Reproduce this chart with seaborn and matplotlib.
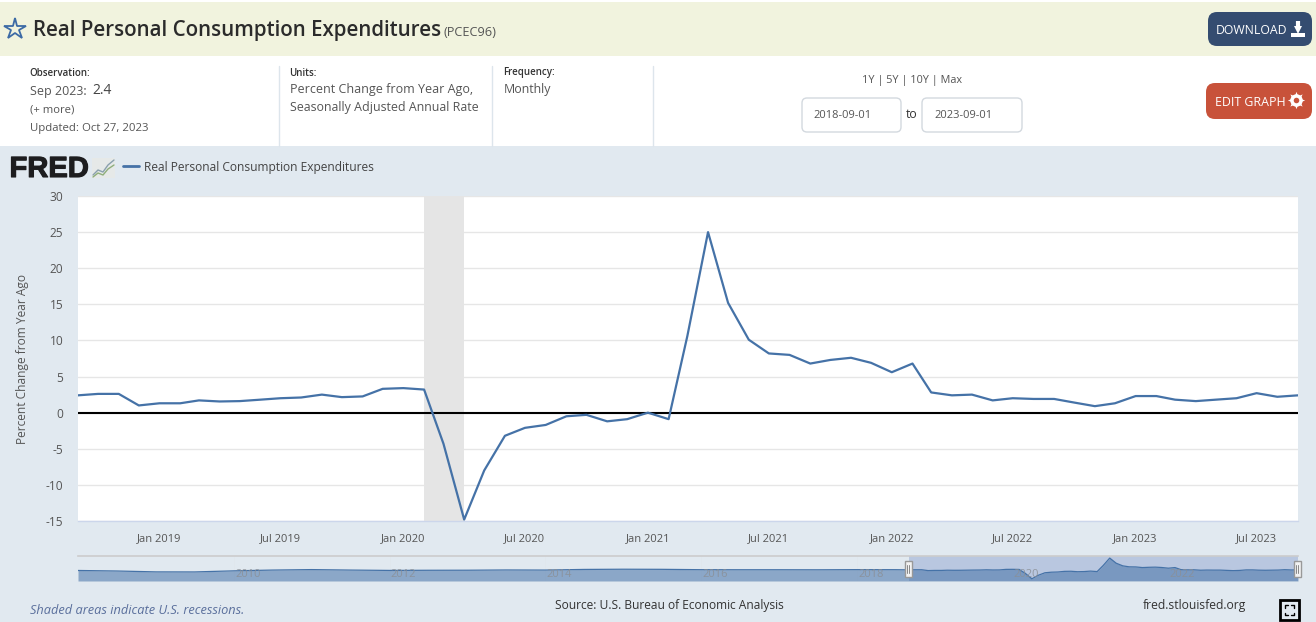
import numpy as np
import pandas as pd
import matplotlib
matplotlib.use("Agg")
import matplotlib.pyplot as plt
import matplotlib.patheffects as pe
from matplotlib.patches import FancyBboxPatch, Rectangle
import seaborn as sns

# -----------------------------
# Data
# -----------------------------
series_name = "Real Personal Consumption Expenditures"
start_month = "2018-09-01"
values = [
    2.4, 2.6, 2.6, 1.0,
    1.3, 1.3, 1.7, 1.55, 1.6, 1.8, 2.0, 2.1, 2.5, 2.15, 2.25, 3.3,
    3.4, 3.2, -4.3, -14.8, -8.0, -3.2, -2.1, -1.7, -0.5, -0.3, -1.2, -0.9,
    0.0, -0.9, 10.6, 25.0, 15.2, 10.1, 8.2, 8.0, 6.8, 7.3, 7.6, 6.9,
    5.6, 6.8, 2.8, 2.4, 2.5, 1.7, 2.0, 1.9, 1.9, 1.4, 0.9, 1.3,
    2.3, 2.3, 1.8, 1.6, 1.8, 2.0, 2.7, 2.2, 2.4,
]
y_ticks = [-15, -10, -5, 0, 5, 10, 15, 20, 25, 30]
x_tick_dates = ["2019-01-01", "2019-07-01", "2020-01-01", "2020-07-01", "2021-01-01",
                "2021-07-01", "2022-01-01", "2022-07-01", "2023-01-01", "2023-07-01"]
x_tick_labels = ["Jan 2019", "Jul 2019", "Jan 2020", "Jul 2020", "Jan 2021",
                 "Jul 2021", "Jan 2022", "Jul 2022", "Jan 2023", "Jul 2023"]
recession = ["2020-02-01", "2020-04-01"]

# navigator history before the selected range (half-yearly reading)
nav_dates = ["2008-01-01", "2008-07-01", "2009-01-01", "2009-07-01", "2010-01-01", "2010-07-01",
             "2011-01-01", "2011-07-01", "2012-01-01", "2012-07-01", "2013-01-01", "2013-07-01",
             "2014-01-01", "2014-07-01", "2015-01-01", "2015-07-01", "2016-01-01", "2016-07-01",
             "2017-01-01", "2017-07-01", "2018-01-01", "2018-07-01"]
nav_values = [1.2, 0.2, -1.5, -1.6, 0.5, 2.0, 2.9, 2.0, 1.3, 1.6, 1.7, 2.2,
              2.0, 3.2, 3.6, 3.4, 2.7, 2.6, 2.6, 2.5, 2.8, 2.7]
nav_year_labels = ["2010", "2012", "2014", "2016", "2018", "2020", "2022"]

df = pd.DataFrame({"date": pd.date_range(start_month, periods=len(values), freq="MS"),
                   "value": values})
nav = pd.concat([pd.DataFrame({"date": pd.to_datetime(nav_dates), "value": nav_values}), df])

# -----------------------------
# Style
# -----------------------------
sns.set_theme(style="white")
plt.rcParams["font.family"] = ["Open Sans", "DejaVu Sans"]
plt.rcParams["axes.unicode_minus"] = False

BG = "#e1e9f0"
LINE = "#4572a7"
TXT = "#555555"
W, H = 1316, 622

fig = plt.figure(figsize=(W / 100, H / 100), dpi=100, facecolor=BG)


def px_axes(x0, y0, x1, y1, **kw):
    return fig.add_axes([x0 / W, (H - y1) / H, (x1 - x0) / W, (y1 - y0) / H], **kw)


# -----------------------------
# Page furniture (pixel coordinates)
# -----------------------------
page = px_axes(0, 0, W, H, zorder=0)
page.set_xlim(0, W)
page.set_ylim(H, 0)
page.axis("off")
page.add_patch(Rectangle((0, 0), W, 146, fc="white", ec="none"))
page.add_patch(Rectangle((0, 2), W, 54, fc="#f1f3de", ec="none"))
for x in [279, 492, 653]:
    page.plot([x, x], [66, 146], color="#dde5ec", lw=1)

page.plot(15, 29, marker="*", ms=16, mfc="none", mec="#3c6aa5", mew=1.3)
page.text(33, 30.5, series_name, fontsize=14.8, fontweight="semibold", color="#2b2b2b",
          va="center", ha="left")
page.text(444, 32, "(PCEC96)", fontsize=9.2, color="#555555", va="center")

for x, label in [(29.5, "Observation:"), (289.5, "Units:"), (503.5, "Frequency:")]:
    page.text(x, 73, label, fontsize=7, fontweight="semibold", color="#333333", va="center")
page.text(30, 91, "Sep 2023:", fontsize=9, color=TXT, va="center")
page.text(92, 91, "2.4", fontsize=10, fontweight="medium", color="#444444", va="center")
page.text(30, 110, "(+ more)", fontsize=8.1, color=TXT, va="center")
page.text(30, 128, "Updated: Oct 27, 2023", fontsize=8.2, color=TXT, va="center")
page.text(290, 89.5, "Percent Change from Year Ago,", fontsize=9, color=TXT, va="center")
page.text(290, 107.5, "Seasonally Adjusted Annual Rate", fontsize=8.95, color=TXT, va="center")
page.text(504, 89.5, "Monthly", fontsize=8.9, color=TXT, va="center")

page.text(912, 80, "1Y | 5Y | 10Y | Max", fontsize=7.8, color=TXT, ha="center", va="center")
for x0, x1, label in [(802, 901, "2018-09-01"), (922, 1022, "2023-09-01")]:
    page.add_patch(FancyBboxPatch((x0 + 5, 103), x1 - x0 - 10, 24, boxstyle="round,pad=5",
                                  fc="white", ec="#d3d9df", lw=1))
    page.text((x0 + x1) / 2 - 8.5, 115, label, fontsize=8, color=TXT, ha="center", va="center")
page.text(912, 115, "to", fontsize=8.8, color="#333333", ha="center", va="center")

# buttons
page.add_patch(FancyBboxPatch((1217, 21), 86, 16, boxstyle="round,pad=9", fc="#344c70", ec="none"))
page.text(1216, 30, "DOWNLOAD", fontsize=8.8, color="white", va="center")
page.plot([1298, 1298], [21, 29], color="white", lw=3, solid_capstyle="butt")
page.plot(1298, 30, marker="v", ms=6, color="white", mew=0)
page.add_patch(Rectangle((1291, 33), 14, 4, fc="white", ec="none"))
page.add_patch(FancyBboxPatch((1215, 92), 88, 18, boxstyle="round,pad=9", fc="#c8523a", ec="none"))
page.text(1215, 102, "EDIT GRAPH", fontsize=8.9, color="white", va="center")
page.plot(1296, 100, marker=(8, 1, 0), ms=12.5, color="white", mew=0)
page.plot(1296, 100, marker="o", ms=9, color="white", mew=0)
page.plot(1296, 100, marker="o", ms=4, color="#c8523a", mew=0)

# FRED logo and legend
page.text(9.5, 169, "FRED", fontsize=21, fontweight="bold", family="Liberation Sans",
          color="#1d1d1f", va="center",
          path_effects=[pe.withStroke(linewidth=0.8, foreground="#1d1d1f")])
page.add_patch(Rectangle((92, 158), 23, 20, fc="#e6e9e8", ec="none"))
page.plot([93, 98, 103, 108, 114], [175, 170, 172, 165, 160], color="#8aa0ad", lw=1)
page.plot([93, 98, 103, 108, 114], [177, 173, 175, 169, 165], color="#8fae7b", lw=1)
page.plot([123, 139], [166, 166], color=LINE, lw=2)
page.text(144, 167.5, series_name, fontsize=8.65, color="#444444", va="center")

# footer
page.text(30, 610, "Shaded areas indicate U.S. recessions.", fontsize=9.2, style="italic",
          color="#5a6f9c", va="center")
page.text(555, 606, "Source: U.S. Bureau of Economic Analysis", fontsize=8.63, color="#333333", va="center")
page.text(1143, 606, "fred.stlouisfed.org", fontsize=8.75, color="#333333", va="center")
page.add_patch(Rectangle((1280, 600), 18.5, 20, fc="none", ec="black", lw=2))
for cx, cy, dx, dy in [(1285, 605, 1, 1), (1293.5, 605, -1, 1), (1285, 615, 1, -1), (1293.5, 615, -1, -1)]:
    page.plot([cx + 2.5 * dx, cx, cx], [cy, cy, cy + 2.5 * dy], color="black", lw=1)

# -----------------------------
# Main chart
# -----------------------------
ax = px_axes(78, 196, 1298, 521, zorder=2, facecolor="white")
ax.axvspan(pd.Timestamp(recession[0]), pd.Timestamp(recession[1]), color="#e5e5e5", lw=0, zorder=1)
ax.axhline(0, color="black", lw=1.5, zorder=3)
sns.lineplot(data=df, x="date", y="value", color=LINE, lw=1.6, ax=ax, zorder=4)
ax.set_xlim(df["date"].iloc[0], df["date"].iloc[-1])
ax.set_ylim(-15, 30)
ax.set_yticks(y_ticks)
ax.set_xticks(pd.to_datetime(x_tick_dates))
ax.set_xticklabels(x_tick_labels)
ax.grid(axis="y", color="#e6e6e6", lw=1)
ax.set_axisbelow(True)
ax.set_xlabel("")
ax.set_ylabel("")
for name in ["top", "left", "right"]:
    ax.spines[name].set_visible(False)
ax.spines["bottom"].set_color("#ccd6eb")
ax.spines["bottom"].set_linewidth(1)
ax.tick_params(axis="x", length=7.2, width=0.8, color="#ccd6eb", labelsize=8, labelcolor=TXT, pad=1.8)
ax.tick_params(axis="y", length=0, labelsize=8.6, labelcolor=TXT, pad=10.5)
page.text(23, 359, "Percent Change from Year Ago", fontsize=8.6, color=TXT, rotation=90,
          ha="center", va="center")

# -----------------------------
# Navigator
# -----------------------------
ax2 = px_axes(78, 556, 1298, 581, zorder=2)
ax2.patch.set_alpha(0)
start = pd.Timestamp(nav_dates[0])
ax2.set_xlim(start, df["date"].iloc[-1])
ax2.set_ylim(-19, 29)
ax2.axvspan(df["date"].iloc[0], df["date"].iloc[-1], color="#b9c7e0", lw=0, zorder=1)
ax2.fill_between(nav["date"], nav["value"], -19, color=LINE, alpha=0.55, lw=0, zorder=2)
sns.lineplot(data=nav, x="date", y="value", color=LINE, lw=0.9, ax=ax2, zorder=3)
ax2.set_xlabel("")
ax2.set_ylabel("")
ax2.set_xticks([])
ax2.set_yticks([])
for name in ["left", "right", "bottom"]:
    ax2.spines[name].set_visible(False)
ax2.spines["top"].set_color("#cccccc")
ax2.spines["top"].set_linewidth(1.2)
for label in nav_year_labels:
    ax2.annotate(label, (pd.Timestamp(f"{label}-01-01"), 0), xycoords=("data", "axes fraction"),
                 xytext=(14 * 0.72, 5), textcoords="offset points", ha="center", va="center",
                 fontsize=8, color="#8a8f96", alpha=0.85, zorder=4)
    ax2.axvline(pd.Timestamp(f"{label}-01-01"), color="#dfe5ea", lw=0.7, alpha=0.5, zorder=0)

# handles drawn on the page, above the navigator
top = px_axes(0, 0, W, H, zorder=3)
top.set_xlim(0, W)
top.set_ylim(H, 0)
top.axis("off")
for x in [908, 1297]:
    top.add_patch(Rectangle((x - 3.5, 561), 7, 16, fc="#f2f2f2", ec="#999999", lw=1))
    top.plot([x - 1, x - 1], [565, 573], color="#888888", lw=0.7)
    top.plot([x + 1, x + 1], [565, 573], color="#888888", lw=0.7)

plt.savefig("out.png", dpi=100)
plt.close()
